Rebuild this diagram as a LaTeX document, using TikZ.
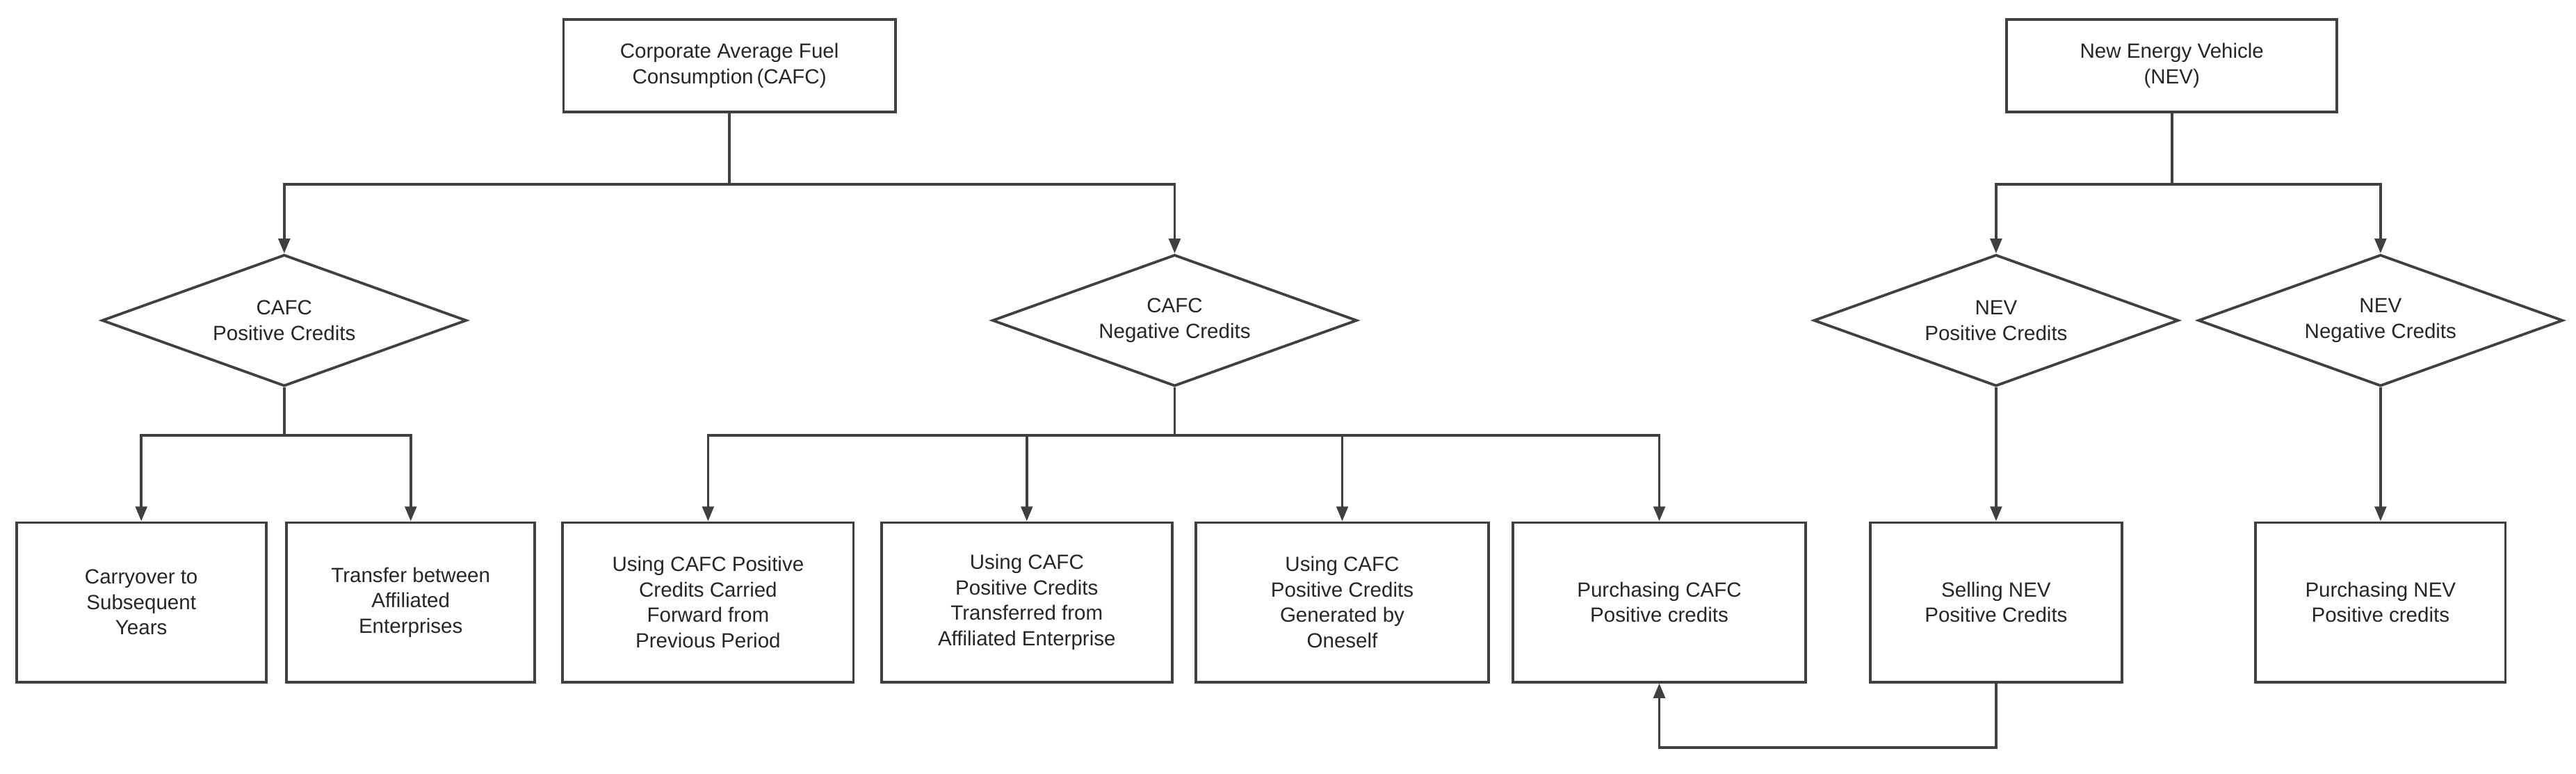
\documentclass[tikz,border=0pt]{standalone}
\usepackage{fontspec}
\setmainfont{Liberation Sans}
\usetikzlibrary{shapes.geometric,arrows.meta}
\begin{document}
\begin{tikzpicture}[x=1pt,y=-1pt,
  every node/.style={font=\fontsize{12.5}{15.5}\selectfont,align=center,text=black!85},
  box/.style={draw=black!75,line width=1.6pt,minimum width=#1,inner sep=2pt},
  dia/.style={draw=black!75,line width=1.6pt,diamond,aspect=2.78,minimum width=222,minimum height=80,inner sep=0pt},
  ln/.style={draw=black!75,line width=1.6pt},
  ar/.style={ln,-{Triangle[length=9pt,width=7pt]}}]
\useasboundingbox (0,0) rectangle (1568,471);
\node[box=202,minimum height=56] (cafc) at (444,40) {Corporate Average Fuel\\Consumption\,(CAFC)};
\node[box=201,minimum height=56] (nev) at (1322,40) {New Energy Vehicle\\(NEV)};
\node[dia] (cp) at (173,195) {CAFC\\Positive Credits};
\node[dia] (cn) at (715,195) {CAFC\\Negative Credits};
\node[dia] (np) at (1215,195) {NEV\\Positive Credits};
\node[dia] (nn) at (1449,195) {NEV\\Negative Credits};
\foreach \n/\x/\w/\t in {b1/86/152/{Carryover to\\Subsequent\\Years},
  b2/250/151/{Transfer between\\Affiliated\\Enterprises},
  b3/431/177/{Using CAFC Positive\\Credits Carried\\Forward from\\Previous Period},
  b4/625/177/{Using CAFC\\Positive Credits\\Transferred from\\Affiliated Enterprise},
  b5/817/178/{Using CAFC\\Positive Credits\\Generated by\\Oneself},
  b6/1010/178/{Purchasing CAFC\\Positive credits},
  b7/1215/153/{Selling NEV\\Positive Credits},
  b8/1449/152/{Purchasing NEV\\Positive credits}}
  \node[box=\w,minimum height=97] (\n) at (\x,366.5) {\t};
\coordinate (j1) at (444,112); \coordinate (j2) at (1322,112);
\coordinate (j3) at (173,265); \coordinate (j4) at (715,265);
\draw[ln] (cafc.south) -- (j1); \draw[ln] (nev.south) -- (j2);
\draw[ar] (j1) -| (cp.north); \draw[ar] (j1) -| (cn.north);
\draw[ar] (j2) -| (np.north); \draw[ar] (j2) -| (nn.north);
\draw[ln] (cp.south) -- (j3); \draw[ln] (cn.south) -- (j4);
\draw[ar] (j3) -| (b1.north); \draw[ar] (j3) -| (b2.north);
\foreach \b in {b3,b4,b5,b6} \draw[ar] (j4) -| (\b.north);
\draw[ar] (np.south) -- (b7.north);
\draw[ar] (nn.south) -- (b8.north);
\coordinate (k) at (1215,455);
\draw[ar] (b7.south) -- (k) -| (b6.south);
\end{tikzpicture}
\end{document}
